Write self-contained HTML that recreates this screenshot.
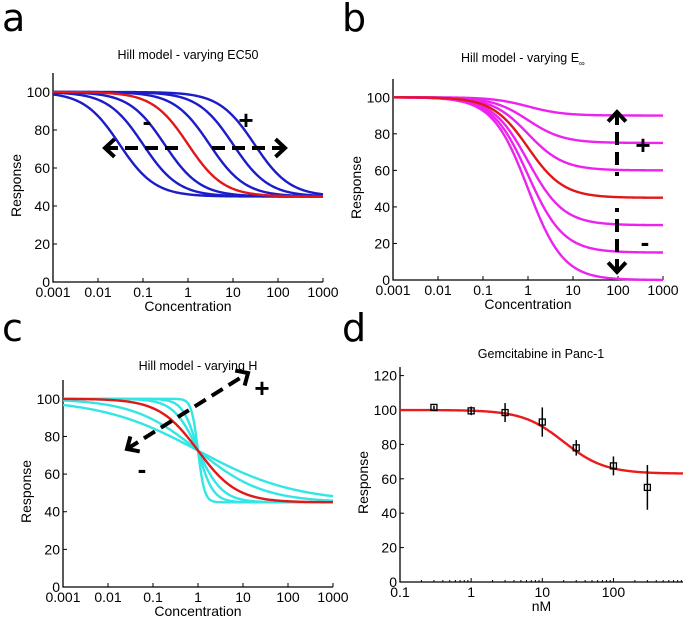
<!DOCTYPE html>
<html><head><meta charset="utf-8"><style>
html,body{margin:0;padding:0;background:#fff;}
svg{display:block;font-family:"Liberation Sans",Arial,sans-serif;}
.lbl{font-family:"DejaVu Sans","Liberation Sans",sans-serif;}
</style></head><body>
<svg id="fig" width="685" height="619" viewBox="0 0 685 619" xmlns="http://www.w3.org/2000/svg">
<text x="2" y="31" font-size="38" class="lbl">a</text>
<text x="342" y="31" font-size="38" class="lbl">b</text>
<text x="2" y="341" font-size="38" class="lbl">c</text>
<text x="342" y="341" font-size="38" class="lbl">d</text>
</svg>
<script>
// Panel a: varying EC50
const aEC50 = [0.03, 0.1, 0.3, 3, 10, 30];
const aRedEC50 = 1;
const aTop = 100, aBottom = 45, aHill = 1.1;
// Panel b: varying Einf
const bEinf = [90, 75, 60, 30, 15, 0];
const bRedEinf = 45;
const bEC50 = 1, bHill = 1.1;
// Panel c: varying H
const cHill = [0.4, 0.6, 1.6, 2.6, 6];
const cRedHill = 1;
const cEC50 = 1;
// Panel d: data
const dConc = [0.3, 1, 3, 10, 30, 100, 300];
const dResp = [101.5, 99.5, 98.5, 93, 78, 67.5, 55];
const dErr = [1, 2.5, 5.5, 8.5, 4.5, 5.5, 13];
const dFitTop = 100, dFitBottom = 63, dFitEC50 = 20, dFitHill = 1.5;
const concTicks = ['0.001','0.01','0.1','1','10','100','1000'];
const dTicks = ['0.1','1','10','100'];
const respTicks = [0,20,40,60,80,100];
const dRespTicks = [0,20,40,60,80,100,120];

const svg = document.getElementById('fig');
const NS = 'http://www.w3.org/2000/svg';
function mk(tag, attrs, parent){const e=document.createElementNS(NS,tag);for(const k in attrs)e.setAttribute(k,attrs[k]);(parent||svg).appendChild(e);return e;}
function hill(x, top, bot, ec, h){return bot + (top-bot)/(1+Math.pow(x/ec,h));}

function makeAxes(p){
  const g = mk('g',{});
  
  
  p.sx = v => p.x0 + (Math.log10(v)-Math.log10(p.xmin))/(Math.log10(p.xmax)-Math.log10(p.xmin))*(p.x1-p.x0);
  p.sy = v => p.y0 - (v-p.ymin)/(p.ymax-p.ymin)*(p.y0-p.y1);
  const ax = mk('path',{d:`M${p.x0},${p.y1}V${p.y0}H${p.x1}`,stroke:'#000','stroke-width':1.3,fill:'none'},g);
  
  
  p.xt.forEach(t=>{const x=p.sx(parseFloat(t));
    mk('line',{x1:x,x2:x,y1:p.y0,y2:p.y0-4,stroke:'#000','stroke-width':1},g);
    const tx=mk('text',{x:x,y:p.y0+15,'font-size':14,'text-anchor':'middle'},g);tx.textContent=t;
    
    
  });
  if(p.minor){for(let d=Math.floor(Math.log10(p.xmin));d<Math.log10(p.xmax);d++){for(let k=2;k<10;k++){const v=k*Math.pow(10,d);if(v>p.xmax||v<p.xmin)continue;const x=p.sx(v);mk('line',{x1:x,x2:x,y1:p.y0,y2:p.y0-2,stroke:'#000','stroke-width':1},g);}}}
  p.yt.forEach(t=>{const y=p.sy(t);
    mk('line',{x1:p.x0,x2:p.x0+4,y1:y,y2:y,stroke:'#000','stroke-width':1},g);
    const tx=mk('text',{x:p.x0-3,y:y+5,'font-size':14,'text-anchor':'end'},g);tx.textContent=t;
    
    
  });
  const xl=mk('text',{x:(p.x0+p.x1)/2,y:p.y0+29,'font-size':14,'text-anchor':'middle'},g);xl.textContent=p.xlabel;
  
  
  const yc=(p.y0+p.y1)/2+8;
  const yl=mk('text',{x:p.x0-32,y:yc,'font-size':14,'text-anchor':'middle',transform:`rotate(-90 ${p.x0-32} ${yc})`},g);yl.textContent='Response';
  
  
  const ti=mk('text',{x:p.tx,y:p.ty,'font-size':12.5,'text-anchor':'middle'},g);ti.textContent=p.title;
  
  
  if(p.sub){const s=mk('text',{x:p.tx+p.subdx,y:p.ty+4,'font-size':8},g);s.textContent=p.sub;}
  p.g=g;return p;
}
function curve(p, f, color, name, xmax){
  let d='';const lo=Math.log10(p.xmin),hi=Math.log10(xmax||p.xmax);
  for(let i=0;i<=300;i++){const lx=lo+(hi-lo)*i/300;const x=Math.pow(10,lx);d+=(i?'L':'M')+p.sx(x).toFixed(2)+','+p.sy(f(x)).toFixed(2);}
  const e=mk('path',{d:d,stroke:color,'stroke-width':2.4,fill:'none'},p.g);
  
  
  return e;
}
function arrow(x1,y1,x2,y2,name,gapFrac){
  const g=mk('g',{});
  
  
  if(gapFrac){
    const t0=0.5-gapFrac/2,t1=0.5+gapFrac/2;
    mk('line',{x1:x1,y1:y1,x2:x1+(x2-x1)*t0,y2:y1+(y2-y1)*t0,stroke:'#000','stroke-width':4,'stroke-dasharray':'13 7'},g);
    mk('line',{x1:x2,y1:y2,x2:x1+(x2-x1)*t1,y2:y1+(y2-y1)*t1,stroke:'#000','stroke-width':4,'stroke-dasharray':'13 7'},g);
  } else {
    mk('line',{x1:x1,y1:y1,x2:x2,y2:y2,stroke:'#000','stroke-width':4,'stroke-dasharray':'13 7'},g);
  }
  [[x1,y1,x2,y2],[x2,y2,x1,y1]].forEach(([ax,ay,bx,by])=>{
    const ang=Math.atan2(ay-by,ax-bx),L=13;
    const p1=[ax-L*Math.cos(ang-0.75),ay-L*Math.sin(ang-0.75)],p2=[ax-L*Math.cos(ang+0.75),ay-L*Math.sin(ang+0.75)];
    mk('path',{d:`M${p1}L${ax},${ay}L${p2}`,stroke:'#000','stroke-width':4,fill:'none','stroke-linejoin':'miter'},g);
  });
}
function sign(x,y,t,name){const e=mk('text',{x:x,y:y,'font-size':26,'font-weight':'bold','text-anchor':'middle'});e.textContent=t;}

// Panel a
const A=makeAxes({name:'panel-a-chart',x0:53,x1:323,y0:282,y1:73,xmin:0.001,xmax:1000,ymin:0,ymax:110,xt:concTicks,yt:respTicks,xlabel:'Concentration',title:'Hill model - varying EC50',tx:188,ty:59});
aEC50.forEach((ec,i)=>curve(A,x=>hill(x,aTop,aBottom,ec,aHill),'#1c1cc8','ec50-curve-'+i));
curve(A,x=>hill(x,aTop,aBottom,aRedEC50,aHill),'#e01818','ec50-reference-curve');
arrow(105,148,285,148,'ec50-arrow',0.13);
sign(147,130,'-','minus-sign-a');sign(246,129,'+','plus-sign-a');

// Panel b
const B=makeAxes({name:'panel-b-chart',x0:393,x1:663,y0:280,y1:79,xmin:0.001,xmax:1000,ymin:0,ymax:110,xt:concTicks,yt:respTicks,xlabel:'Concentration',title:'Hill model - varying E',sub:'∞',subdx:59,tx:520,ty:62});
bEinf.forEach((e,i)=>curve(B,x=>hill(x,100,e,bEC50,bHill),'#ee22ee','einf-curve-'+i));
curve(B,x=>hill(x,100,bRedEinf,bEC50,bHill),'#e01818','einf-reference-curve');
arrow(617,112,617,272,'einf-arrow',0.2);
sign(643,154,'+','plus-sign-b');sign(645,251,'-','minus-sign-b');

// Panel c
const C=makeAxes({name:'panel-c-chart',x0:63,x1:333,y0:587,y1:380,xmin:0.001,xmax:1000,ymin:0,ymax:110,xt:concTicks,yt:respTicks,xlabel:'Concentration',title:'Hill model - varying H',tx:198,ty:370});
cHill.forEach((h,i)=>curve(C,x=>hill(x,100,45,cEC50,h),'#33e6e6','hill-curve-'+i));
curve(C,x=>hill(x,100,45,cEC50,cRedHill),'#e01818','hill-reference-curve');
arrow(127,449,248,373,'hill-arrow');
sign(262,397,'+','plus-sign-c');sign(142,478,'-','minus-sign-c');

// Panel d
const D=makeAxes({name:'panel-d-chart',x0:400,x1:683,y0:582,y1:367,xmin:0.1,xmax:950,ymin:0,ymax:125,xt:dTicks,yt:dRespTicks,xlabel:'nM',title:'Gemcitabine in Panc-1',tx:541,ty:358,minor:true});
curve(D,x=>hill(x,dFitTop,dFitBottom,dFitEC50,dFitHill),'#e81c1c','fit-curve');
dConc.forEach((c,i)=>{
  const x=D.sx(c),y=D.sy(dResp[i]);
  const eb=mk('line',{x1:x,x2:x,y1:D.sy(dResp[i]+dErr[i]),y2:D.sy(dResp[i]-dErr[i]),stroke:'#000','stroke-width':1.5},D.g);
  
  
  const m=mk('rect',{x:x-3,y:y-3,width:6,height:6,fill:'none',stroke:'#000','stroke-width':1.3},D.g);
  
  
});
</script>
</body></html>
